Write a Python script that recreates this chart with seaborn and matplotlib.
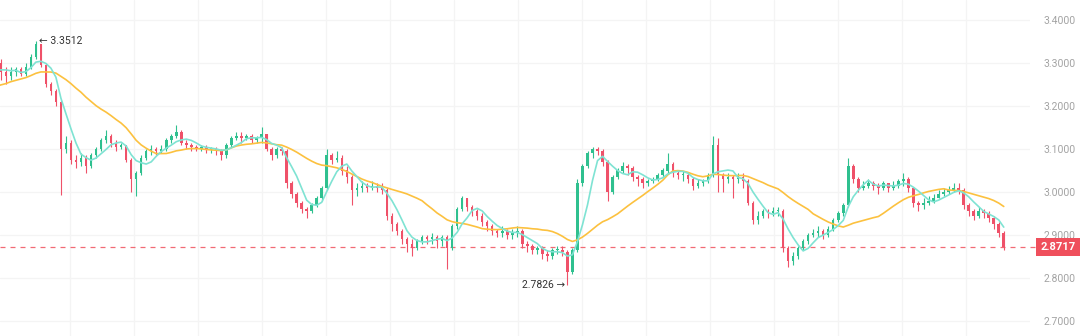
import numpy as np
import pandas as pd
import matplotlib
matplotlib.use("Agg")
import matplotlib.pyplot as plt
import matplotlib.transforms as mtransforms
import seaborn as sns

# ---------------- data ----------------
# closes before the first visible candle (only used to warm up the moving averages)
pre_closes = [3.20, 3.21, 3.19, 3.22, 3.21, 3.23, 3.22, 3.24, 3.23, 3.25,
              3.24, 3.26, 3.25, 3.27, 3.26, 3.28, 3.27, 3.29, 3.28, 3.30]

closes = [
    3.280, 3.270, 3.280, 3.285, 3.275, 3.290, 3.315, 3.345, 3.295, 3.250,
    3.235, 3.210, 3.100, 3.115, 3.075, 3.070, 3.080, 3.060, 3.085, 3.100,
    3.120, 3.130, 3.115, 3.105, 3.110, 3.075, 3.030, 3.045, 3.080, 3.095,
    3.100, 3.095, 3.100, 3.120, 3.130, 3.140, 3.115, 3.110, 3.105, 3.100,
    3.105, 3.100, 3.100, 3.095, 3.085, 3.110, 3.125, 3.130, 3.125, 3.130,
    3.120, 3.125, 3.135, 3.100, 3.085, 3.100, 3.095, 3.020, 2.995, 2.975,
    2.960, 2.955, 2.970, 2.985, 3.010, 3.085, 3.075, 3.080, 3.050, 3.035,
    3.005, 3.010, 3.015, 3.010, 3.015, 3.010, 3.005, 2.945, 2.925, 2.910,
    2.890, 2.880, 2.870, 2.885, 2.895, 2.890, 2.895, 2.885, 2.895, 2.870,
    2.920, 2.960, 2.985, 2.965, 2.955, 2.945, 2.930, 2.920, 2.910, 2.905,
    2.910, 2.900, 2.905, 2.910, 2.880, 2.875, 2.865, 2.870, 2.855, 2.850,
    2.865, 2.865, 2.860, 2.815, 2.865, 3.020, 3.060, 3.090, 3.100, 3.095,
    3.070, 3.000, 3.035, 3.050, 3.060, 3.055, 3.035, 3.030, 3.020, 3.025,
    3.030, 3.040, 3.050, 3.065, 3.045, 3.040, 3.040, 3.030, 3.015, 3.020,
    3.025, 3.040, 3.110, 3.040, 3.030, 3.035, 3.030, 3.035, 3.025, 2.975,
    2.935, 2.945, 2.955, 2.950, 2.955, 2.955, 2.870, 2.840, 2.850, 2.870,
    2.885, 2.900, 2.905, 2.910, 2.900, 2.915, 2.935, 2.950, 2.970, 3.060,
    3.030, 3.010, 3.015, 3.020, 3.015, 3.010, 3.020, 3.010, 3.015, 3.025,
    3.030, 3.010, 2.975, 2.970, 2.975, 2.980, 2.985, 2.995, 3.000, 3.005,
    3.010, 3.005, 2.970, 2.955, 2.945, 2.955, 2.950, 2.940, 2.925, 2.905,
    2.8717,
]

highs = [
    3.310, 3.290, 3.290, 3.290, 3.290, 3.300, 3.320, 3.3512, 3.345, 3.300,
    3.255, 3.240, 3.215, 3.130, 3.120, 3.085, 3.090, 3.085, 3.090, 3.105,
    3.125, 3.144, 3.135, 3.120, 3.115, 3.110, 3.080, 3.050, 3.085, 3.100,
    3.110, 3.105, 3.110, 3.125, 3.135, 3.156, 3.145, 3.120, 3.115, 3.110,
    3.110, 3.110, 3.105, 3.105, 3.100, 3.115, 3.130, 3.140, 3.140, 3.135,
    3.135, 3.130, 3.150, 3.135, 3.105, 3.105, 3.105, 3.100, 3.025, 3.000,
    2.980, 2.965, 2.975, 2.990, 3.015, 3.100, 3.090, 3.095, 3.085, 3.060,
    3.040, 3.020, 3.025, 3.020, 3.025, 3.020, 3.020, 3.010, 2.950, 2.930,
    2.915, 2.895, 2.890, 2.890, 2.900, 2.900, 2.905, 2.900, 2.900, 2.900,
    2.925, 2.965, 2.990, 2.985, 2.970, 2.960, 2.950, 2.935, 2.925, 2.915,
    2.920, 2.915, 2.915, 2.920, 2.915, 2.885, 2.880, 2.875, 2.875, 2.865,
    2.870, 2.875, 2.875, 2.865, 2.870, 3.030, 3.065, 3.095, 3.105, 3.105,
    3.100, 3.075, 3.040, 3.055, 3.070, 3.065, 3.060, 3.040, 3.035, 3.030,
    3.035, 3.045, 3.055, 3.090, 3.070, 3.050, 3.050, 3.045, 3.035, 3.030,
    3.030, 3.045, 3.130, 3.125, 3.045, 3.045, 3.040, 3.045, 3.045, 3.030,
    2.980, 2.955, 2.960, 2.960, 2.965, 2.965, 2.960, 2.875, 2.860, 2.875,
    2.890, 2.905, 2.915, 2.920, 2.915, 2.920, 2.940, 2.955, 2.975, 3.080,
    3.065, 3.035, 3.025, 3.030, 3.025, 3.020, 3.025, 3.020, 3.025, 3.030,
    3.045, 3.035, 3.010, 2.980, 2.985, 2.990, 2.995, 3.005, 3.010, 3.015,
    3.020, 3.020, 3.010, 2.975, 2.960, 2.965, 2.960, 2.955, 2.945, 2.930,
    2.910,
]

lows = [
    3.260, 3.250, 3.260, 3.270, 3.270, 3.270, 3.285, 3.310, 3.290, 3.245,
    3.225, 3.200, 2.993, 3.090, 3.065, 3.055, 3.060, 3.045, 3.055, 3.080,
    3.095, 3.115, 3.105, 3.095, 3.100, 3.070, 3.000, 2.990, 3.040, 3.075,
    3.085, 3.085, 3.090, 3.095, 3.115, 3.125, 3.110, 3.100, 3.095, 3.095,
    3.095, 3.090, 3.090, 3.085, 3.075, 3.080, 3.105, 3.120, 3.115, 3.120,
    3.115, 3.115, 3.115, 3.095, 3.075, 3.080, 3.085, 3.010, 2.985, 2.965,
    2.950, 2.940, 2.950, 2.965, 2.980, 3.005, 3.065, 3.070, 3.040, 3.020,
    2.970, 2.990, 3.000, 3.000, 3.005, 3.000, 2.995, 2.935, 2.910, 2.900,
    2.880, 2.860, 2.850, 2.865, 2.880, 2.880, 2.880, 2.870, 2.875, 2.820,
    2.865, 2.915, 2.955, 2.955, 2.945, 2.935, 2.920, 2.910, 2.900, 2.895,
    2.895, 2.890, 2.890, 2.895, 2.870, 2.860, 2.855, 2.855, 2.845, 2.840,
    2.845, 2.855, 2.850, 2.7826, 2.810, 2.860, 3.015, 3.055, 3.080, 3.085,
    3.060, 2.980, 2.995, 3.030, 3.045, 3.040, 3.025, 3.015, 3.010, 3.015,
    3.020, 3.025, 3.035, 3.045, 3.035, 3.030, 3.025, 3.020, 3.005, 3.010,
    3.015, 3.020, 3.035, 3.000, 3.000, 3.020, 2.985, 3.020, 3.010, 2.970,
    2.925, 2.925, 2.940, 2.940, 2.945, 2.945, 2.860, 2.825, 2.830, 2.845,
    2.865, 2.880, 2.895, 2.895, 2.890, 2.895, 2.910, 2.930, 2.945, 2.965,
    3.020, 3.000, 3.005, 3.010, 3.005, 2.995, 3.005, 3.000, 3.005, 3.010,
    3.015, 3.000, 2.965, 2.955, 2.960, 2.970, 2.975, 2.985, 2.990, 2.995,
    3.000, 2.995, 2.960, 2.945, 2.935, 2.940, 2.940, 2.930, 2.915, 2.895,
    2.865,
]

y_ticks = [2.7, 2.8, 2.9, 3.0, 3.1, 3.2, 3.3, 3.4]
last_price = 2.8717
high_label = "3.3512"
low_label = "2.7826"

# ---------------- build frame ----------------
all_close = pre_closes + closes
n_pre = len(pre_closes)
df_all = pd.DataFrame({"x": np.arange(-n_pre, len(closes)), "close": all_close})
df_all["ma_fast"] = df_all["close"].rolling(5, min_periods=1).mean()
df_all["ma_slow"] = df_all["close"].rolling(20, min_periods=1).mean()

df = pd.DataFrame({"x": np.arange(len(closes)), "close": closes, "high": highs, "low": lows})
df["open"] = [pre_closes[-1]] + closes[:-1]

GREEN = "#2fc08f"
RED = "#ef5169"
CYAN = "#7fe3d3"
ORANGE = "#fcc13f"
GRID = "#f4f4f4"
LABEL = "#a3a3a3"

sns.set_theme(style="white")
plt.rcParams["font.family"] = ["Roboto", "DejaVu Sans"]

W, H = 1080, 336
fig = plt.figure(figsize=(W / 100, H / 100), dpi=100)
plot_w = 1030
ax = fig.add_axes([0, 0, plot_w / W, 1])

spacing_px = 1003 / (len(closes) - 1)
x0 = -0.15
x1 = x0 + plot_w / spacing_px
ax.set_xlim(x0, x1)
y_top = 3.4 + 20 / 430
y_bot = 3.4 - 316 / 430
ax.set_ylim(y_bot, y_top)

# grid
for v in y_ticks:
    ax.axhline(v, color=GRID, lw=0.9, zorder=0)
for px in range(70, plot_w, 64):
    ax.axvline(x0 + px / spacing_px, color=GRID, lw=0.9, zorder=0)

# candles
up = df["close"] >= df["open"]
cols = np.where(up, GREEN, RED)
ax.vlines(df["x"], df["low"], df["high"], colors=cols, lw=0.8, zorder=2)
body_bot = np.minimum(df["open"], df["close"])
body_h = np.maximum(np.abs(df["close"] - df["open"]), 0.002)
ax.bar(df["x"], body_h, bottom=body_bot, width=0.5, color=cols, linewidth=0, zorder=3)

# moving averages
sns.lineplot(data=df_all, x="x", y="ma_slow", ax=ax, color=ORANGE, lw=1.2, zorder=4, legend=False)
sns.lineplot(data=df_all, x="x", y="ma_fast", ax=ax, color=CYAN, lw=1.2, zorder=5, legend=False)

# last price dashed line
ax.axhline(last_price, xmin=0, xmax=1.006, color="#f26a74", lw=0.9, ls=(0, (4, 4)), zorder=1, clip_on=False)

# axes styling
for s in ax.spines.values():
    s.set_visible(False)
ax.set_xticks([])
ax.yaxis.tick_right()
ax.set_yticks(y_ticks)
ax.set_yticklabels([f"{v:.4f}" for v in y_ticks], color=LABEL, fontsize=7.5)
ax.tick_params(axis="y", length=0, pad=9.5)
ax.set_xlabel("")
ax.set_ylabel("")

# last price label box
fig.text(1058 / W, 1 - 247 / H, f"{last_price:.4f}", color="white", fontsize=8, fontweight="bold",
         ha="center", va="center",
         bbox=dict(boxstyle="square,pad=0.35", fc="#ef4f5c", ec="none"))

# high / low annotations
hi_i = int(np.argmax(df["high"]))
lo_i = int(np.argmin(df["low"]))
off = mtransforms.offset_copy(ax.transData, fig=fig, x=2, y=0, units="points")
ax.text(df["x"][hi_i], df["high"][hi_i], "\u2190 " + high_label, transform=off,
        fontsize=7.5, color="#333333", ha="left", va="center", zorder=6)
off2 = mtransforms.offset_copy(ax.transData, fig=fig, x=-2, y=0, units="points")
ax.text(df["x"][lo_i], df["low"][lo_i], low_label + " \u2192", transform=off2,
        fontsize=7.5, color="#333333", ha="right", va="center", zorder=6)

fig.savefig("out.png", dpi=100, facecolor="white")
